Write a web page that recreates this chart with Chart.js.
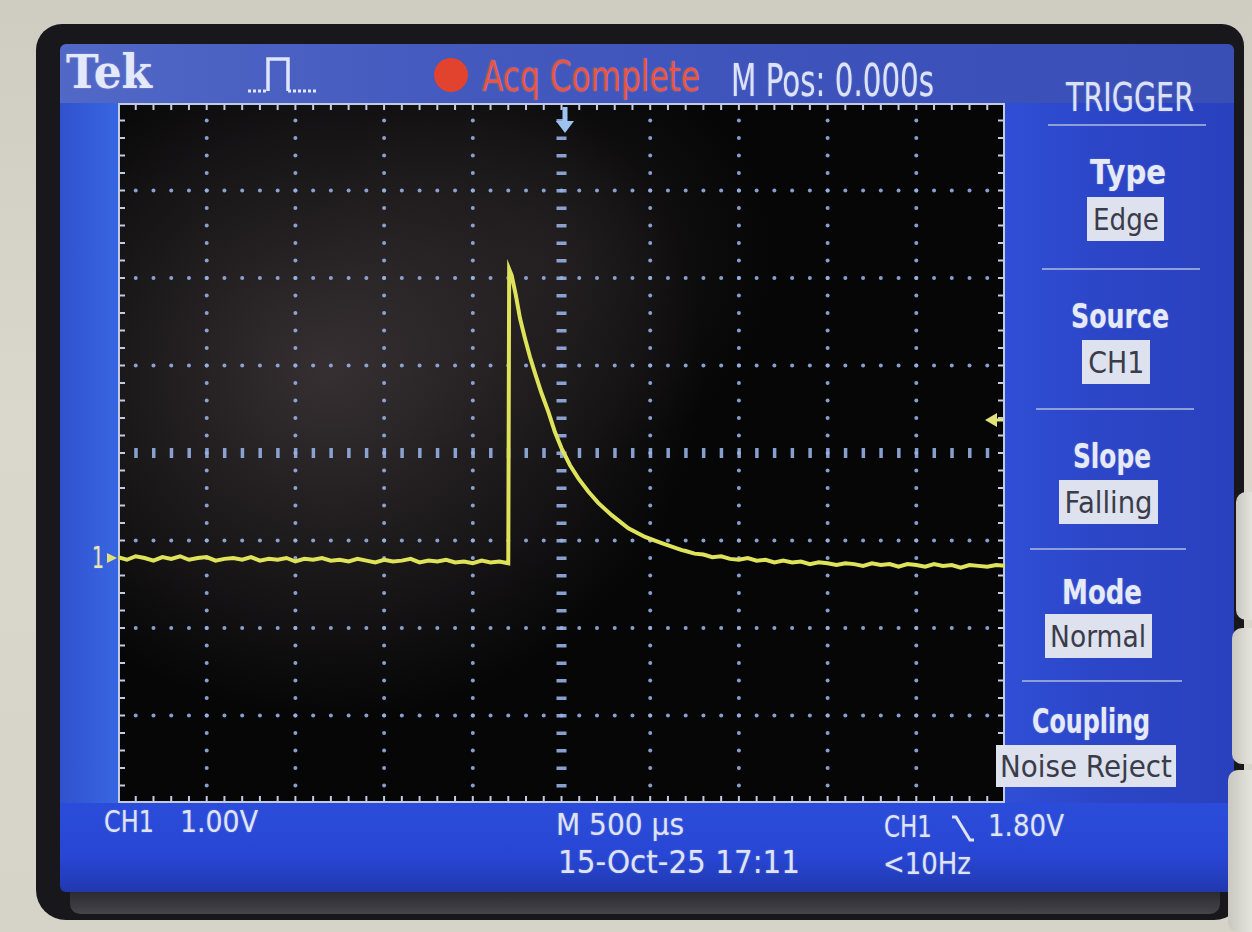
<!DOCTYPE html>
<html>
<head>
<meta charset="utf-8">
<title>Tek CH1 capture</title>
<script src="https://cdn.jsdelivr.net/npm/chart.js@4.4.1/dist/chart.umd.min.js"></script>
<style>
html, body { margin: 0; padding: 0; }
body {
  width: 1252px; height: 932px; position: relative; overflow: hidden;
  background: linear-gradient(180deg, #cfcdc1 0%, #dad8cd 45%, #d6d4c8 100%);
  font-family: "DejaVu Sans", sans-serif;
}
.abs { position: absolute; }
#bezel { left: 36px; top: 24px; width: 1208px; height: 896px; background: #18181c; border-radius: 26px 22px 30px 30px; }
#topbar { left: 60px; top: 44px; width: 1174px; height: 59px; background: linear-gradient(90deg, #5268c6 0%, #4359be 35%, #3c52ba 70%, #3a4fb6 100%); border-radius: 6px 6px 0 0; }
#leftstrip { left: 60px; top: 103px; width: 58px; height: 700px; background: linear-gradient(90deg, #3152cf 0%, #3866e2 100%); }
#rightpanel { left: 1005px; top: 103px; width: 229px; height: 700px; background: linear-gradient(90deg, #2f4fd6 0%, #2c46c8 40%, #2941bd 100%); }
#bottombar { left: 60px; top: 803px; width: 1174px; height: 89px; background: linear-gradient(180deg, #2b4cda 0%, #2846d4 60%, #2038ae 100%); border-radius: 0 0 6px 6px; }
#bottomlip { left: 70px; top: 892px; width: 1150px; height: 22px; background: linear-gradient(180deg, #2a2a30, #45454a); border-radius: 0 0 10px 10px; }
#plot {
  left: 118px; top: 103px; width: 887px; height: 700px;
  background:
    radial-gradient(ellipse 42% 50% at 24% 38%, rgba(70,62,64,0.75), rgba(50,44,46,0.5) 55%, rgba(0,0,0,0) 100%),
    radial-gradient(ellipse 26% 30% at 48% 22%, rgba(55,48,50,0.45), rgba(0,0,0,0) 100%),
    #060607;
}
.lbl { position: absolute; white-space: nowrap; line-height: 1; transform-origin: 0 50%; text-shadow: 0 0 2px rgba(230,236,255,0.35); }
.top { color: #dde3f7; }
.pan { color: #e6eaf7; font-weight: bold; font-size: 33px; }
.bot { color: #dfe3f2; font-size: 31px; }
.box { position: absolute; background: #dde2ee; display: flex; align-items: center; justify-content: center; }
.box span { display: inline-block; white-space: nowrap; line-height: 1; color: #3b3c4a; font-size: 31px; transform-origin: 50% 50%; }
.sep { position: absolute; height: 2px; background: #8d9fd8; }
.btn { position: absolute; background: linear-gradient(90deg, #c9c8c0, #e4e3dc); border-radius: 10px 0 0 10px; }
</style>
</head>
<body>
<div id="bezel" class="abs"></div>
<div id="topbar" class="abs"></div>
<div id="leftstrip" class="abs"></div>
<div id="rightpanel" class="abs"></div>
<div id="bottombar" class="abs"></div>
<div id="bottomlip" class="abs"></div>
<div class="btn" style="left:1236px;top:492px;width:16px;height:128px;"></div>
<div class="btn" style="left:1232px;top:628px;width:20px;height:136px;"></div>
<div class="btn" style="left:1228px;top:770px;width:24px;height:162px;"></div>

<div id="plot" class="abs"><canvas id="scope"></canvas></div>

<!-- top status line -->
<div class="lbl top" data-w="86" style="left:66px;top:49px;font-family:'DejaVu Serif',serif;font-weight:bold;font-size:46px;color:#e4e8fb;">Tek</div>
<svg class="abs" style="left:244px;top:54px;" width="76" height="42">
  <path d="M4 37 H24" stroke="#dfe5fa" stroke-width="3" stroke-dasharray="3 2" fill="none"/>
  <path d="M24 37 V5 H44 V37" stroke="#dfe5fa" stroke-width="3.5" fill="none"/>
  <path d="M44 37 H72" stroke="#dfe5fa" stroke-width="3" stroke-dasharray="3 2" fill="none"/>
</svg>
<svg class="abs" style="left:433px;top:57px;" width="36" height="36"><circle cx="18" cy="18" r="17" fill="#e2432f"/></svg>
<div class="lbl" data-w="218" style="left:482px;top:56px;font-size:42px;color:#e9553f;">Acq Complete</div>
<div class="lbl top" data-w="203" style="left:731px;top:59px;font-size:44px;">M Pos: 0.000s</div>
<div class="lbl top" data-w="128" style="left:1066px;top:78px;font-size:39px;">TRIGGER</div>

<!-- trigger menu -->
<div class="sep" style="left:1048px;top:124px;width:158px;"></div>
<div class="lbl pan" data-w="76" style="left:1090px;top:156px;">Type</div>
<div class="box" style="left:1087px;top:197px;width:77px;height:44px;"><span data-w="66">Edge</span></div>
<div class="sep" style="left:1042px;top:268px;width:158px;"></div>
<div class="lbl pan" data-w="98" style="left:1071px;top:300px;">Source</div>
<div class="box" style="left:1082px;top:340px;width:68px;height:44px;"><span data-w="56">CH1</span></div>
<div class="sep" style="left:1036px;top:408px;width:158px;"></div>
<div class="lbl pan" data-w="78" style="left:1073px;top:440px;">Slope</div>
<div class="box" style="left:1059px;top:480px;width:99px;height:44px;"><span data-w="88">Falling</span></div>
<div class="sep" style="left:1030px;top:548px;width:156px;"></div>
<div class="lbl pan" data-w="80" style="left:1062px;top:576px;">Mode</div>
<div class="box" style="left:1045px;top:614px;width:107px;height:44px;"><span data-w="96">Normal</span></div>
<div class="sep" style="left:1022px;top:680px;width:160px;"></div>
<div class="lbl pan" data-w="118" style="left:1032px;top:705px;">Coupling</div>
<div class="box" style="left:996px;top:745px;width:180px;height:42px;"><span data-w="172">Noise Reject</span></div>

<!-- bottom status line -->
<div class="lbl bot" data-w="50" style="left:104px;top:806px;">CH1</div>
<div class="lbl bot" data-w="78" style="left:180px;top:806px;">1.00V</div>
<div class="lbl bot" data-w="128" style="left:556px;top:809px;">M 500 µs</div>
<div class="lbl bot" data-w="242" style="left:558px;top:846px;font-size:32px;">15-Oct-25 17:11</div>
<div class="lbl bot" data-w="48" style="left:884px;top:811px;">CH1</div>
<svg class="abs" style="left:950px;top:814px;" width="26" height="30">
  <path d="M2 3 H6 L20 26 H24" stroke="#dfe3f2" stroke-width="3" fill="none"/>
</svg>
<div class="lbl bot" data-w="76" style="left:988px;top:810px;">1.80V</div>
<div class="lbl bot" data-w="88" style="left:883px;top:848px;">&lt;10Hz</div>

<!-- channel / trigger markers -->
<div class="lbl" data-w="12" style="left:92px;top:543px;font-size:30px;color:#e8e6b4;">1</div>
<svg class="abs" style="left:106px;top:550px;" width="14" height="16"><path d="M1 3 L11 8 L1 13 Z" fill="#e3e27a"/></svg>
<svg class="abs" style="left:554px;top:105px;" width="22" height="30">
  <path d="M11 2 V20" stroke="#9fc3f0" stroke-width="5"/>
  <path d="M2 16 L11 28 L20 16 Z" fill="#9fc3f0"/>
</svg>
<svg class="abs" style="left:983px;top:410px;" width="20" height="20"><path d="M2 10 L14 3 V17 Z" fill="#e3e27a"/><path d="M12 10 H20" stroke="#e3e27a" stroke-width="3"/></svg>

<script>
// 500 us/div, 1.00 V/div, 10 x 8 divisions
const timeTicks = [-2500, -2000, -1500, -1000, -500, 0, 500, 1000, 1500, 2000, 2500];
const voltTicks = [-3, -2, -1, 0, 1, 2, 3, 4, 5];

// CH1 trace, time in us, volts
const baseTimes = [-2500, -2450, -2400, -2350, -2300, -2250, -2200, -2150, -2100, -2050,
  -2000, -1950, -1900, -1850, -1800, -1750, -1700, -1650, -1600, -1550,
  -1500, -1450, -1400, -1350, -1300, -1250, -1200, -1150, -1100, -1050,
  -1000, -950, -900, -850, -800, -750, -700, -650, -600, -550,
  -500, -450, -400, -350, -300];
const baseVolts = [-0.19, -0.22, -0.18, -0.20, -0.23, -0.19, -0.21, -0.18, -0.22, -0.20,
  -0.19, -0.23, -0.21, -0.20, -0.22, -0.19, -0.23, -0.21, -0.22, -0.20,
  -0.24, -0.21, -0.22, -0.20, -0.23, -0.22, -0.24, -0.21, -0.23, -0.25,
  -0.22, -0.24, -0.23, -0.21, -0.25, -0.23, -0.24, -0.22, -0.25, -0.24,
  -0.26, -0.23, -0.25, -0.24, -0.26];

const pulseTimes = [-296, -295, -281, -258, -234, -206, -178, -149, -112, -74, -37,
  1, 48, 95, 151, 207, 283, 377, 471, 565, 678];
const pulseVolts = [-0.26, 3.10, 3.03, 2.81, 2.54, 2.31, 2.10, 1.91, 1.68, 1.47, 1.24,
  1.05, 0.86, 0.71, 0.56, 0.43, 0.29, 0.14, 0.04, -0.03, -0.11];

const tailTimes = [700, 750, 800, 850, 900, 950, 1000, 1050, 1100, 1150,
  1200, 1250, 1300, 1350, 1400, 1450, 1500, 1550, 1600, 1650,
  1700, 1750, 1800, 1850, 1900, 1950, 2000, 2050, 2100, 2150,
  2200, 2250, 2300, 2350, 2400, 2450, 2500];
const tailVolts = [-0.12, -0.15, -0.16, -0.19, -0.18, -0.21, -0.22, -0.20, -0.23, -0.22,
  -0.25, -0.23, -0.25, -0.24, -0.27, -0.25, -0.26, -0.28, -0.26, -0.27,
  -0.29, -0.26, -0.28, -0.27, -0.30, -0.27, -0.28, -0.30, -0.27, -0.29,
  -0.28, -0.31, -0.28, -0.29, -0.30, -0.28, -0.29];

const allTimes = baseTimes.concat(pulseTimes, tailTimes);
const allVolts = baseVolts.concat(pulseVolts, tailVolts);
const tracePoints = allTimes.map((t, i) => ({ x: t, y: allVolts[i] }));

// dotted graticule, 5 minor marks per division
const graticule = {
  id: 'graticule',
  beforeDatasetsDraw(chart) {
    const { ctx, chartArea: a, scales: { x, y } } = chart;
    const t0 = timeTicks[0], t1 = timeTicks[timeTicks.length - 1];
    const v0 = voltTicks[0], v1 = voltTicks[voltTicks.length - 1];
    const tStep = (timeTicks[1] - t0) / 5;
    const vStep = (voltTicks[1] - v0) / 5;
    const nT = Math.round((t1 - t0) / tStep);
    const nV = Math.round((v1 - v0) / vStep);
    const tMid = timeTicks[(timeTicks.length - 1) / 2];
    const vMid = voltTicks[(voltTicks.length - 1) / 2];

    ctx.save();
    ctx.fillStyle = 'rgba(150,176,228,0.9)';
    // vertical lines
    timeTicks.slice(1, -1).forEach(t => {
      const px = x.getPixelForValue(t);
      for (let k = 1; k < nV; k++) {
        const py = y.getPixelForValue(v0 + k * vStep);
        if (t === tMid) {
          ctx.fillRect(px - 5, py - 1.5, 10, 3.5);
        } else {
          ctx.beginPath(); ctx.arc(px, py, 2, 0, Math.PI * 2); ctx.fill();
        }
      }
    });
    // horizontal lines
    voltTicks.slice(1, -1).forEach(v => {
      const py = y.getPixelForValue(v);
      for (let k = 1; k < nT; k++) {
        const px = x.getPixelForValue(t0 + k * tStep);
        if (v === vMid) {
          ctx.fillRect(px - 1.5, py - 5, 3.5, 10);
        } else {
          ctx.beginPath(); ctx.arc(px, py, 2, 0, Math.PI * 2); ctx.fill();
        }
      }
    });

    // frame with inward ticks
    ctx.strokeStyle = '#c3cbe2';
    ctx.lineWidth = 2;
    ctx.strokeRect(a.left + 1, a.top + 1, a.width - 2, a.height - 2);
    ctx.beginPath();
    for (let k = 1; k < nT; k++) {
      const px = x.getPixelForValue(t0 + k * tStep);
      ctx.moveTo(px, a.top); ctx.lineTo(px, a.top + 7);
      ctx.moveTo(px, a.bottom); ctx.lineTo(px, a.bottom - 7);
    }
    for (let k = 1; k < nV; k++) {
      const py = y.getPixelForValue(v0 + k * vStep);
      ctx.moveTo(a.left, py); ctx.lineTo(a.left + 7, py);
      ctx.moveTo(a.right, py); ctx.lineTo(a.right - 7, py);
    }
    ctx.stroke();
    ctx.restore();
  }
};

new Chart(document.getElementById('scope'), {
  type: 'line',
  data: {
    datasets: [{
      label: 'CH1',
      data: tracePoints,
      borderColor: '#dfe35a',
      borderWidth: 4,
      pointRadius: 0,
      tension: 0
    }]
  },
  options: {
    responsive: true,
    maintainAspectRatio: false,
    animation: false,
    layout: { padding: 0 },
    plugins: { legend: { display: false }, tooltip: { enabled: false } },
    scales: {
      x: { type: 'linear', min: timeTicks[0], max: timeTicks[timeTicks.length - 1], display: false },
      y: { type: 'linear', min: voltTicks[0], max: voltTicks[voltTicks.length - 1], display: false }
    }
  },
  plugins: [graticule]
});

// squeeze the text to the narrow scope font widths
document.querySelectorAll('[data-w]').forEach(el => {
  const w = el.getBoundingClientRect().width;
  if (w > 0) el.style.transform = 'scaleX(' + (el.dataset.w / w) + ')';
});
</script>
</body>
</html>
